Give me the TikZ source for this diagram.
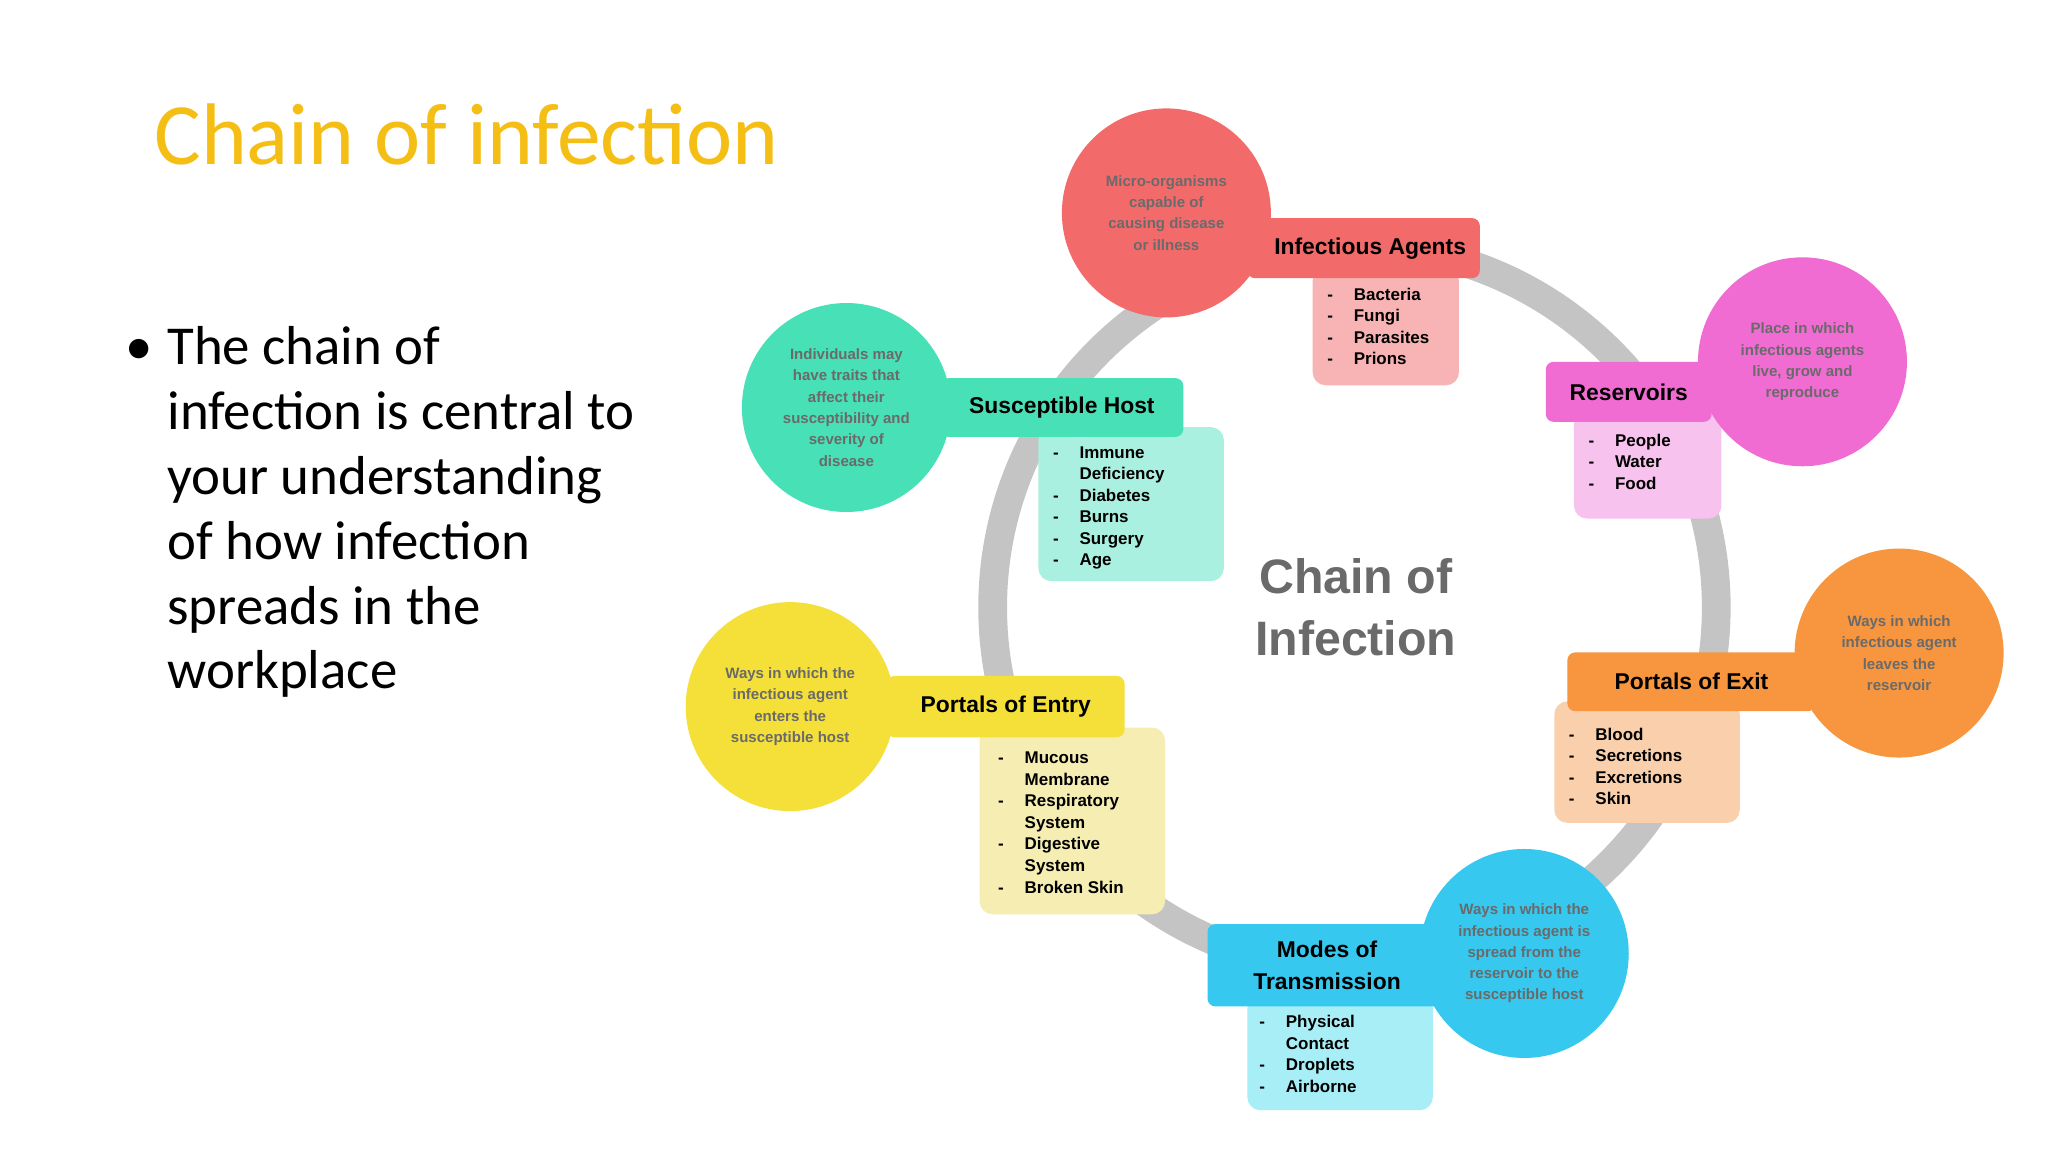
\documentclass[tikz,border=0pt]{standalone}
\usepackage{fontspec}
\setmainfont{Liberation Sans}
\newfontfamily\calfnt{Carlito}
\definecolor{ttl}{HTML}{F5BE14}
\definecolor{ring}{HTML}{C4C4C4}
\definecolor{cA}{HTML}{F26A6A}\definecolor{lA}{HTML}{F8B4B4}
\definecolor{cR}{HTML}{F06CD2}\definecolor{lR}{HTML}{F8C2EE}
\definecolor{cE}{HTML}{F7963E}\definecolor{lE}{HTML}{FAD0AC}
\definecolor{cM}{HTML}{36C8EE}\definecolor{lM}{HTML}{A8EEF6}
\definecolor{cP}{HTML}{F5E03A}\definecolor{lP}{HTML}{F5EDB2}
\definecolor{cS}{HTML}{48E0B6}\definecolor{lS}{HTML}{AAF0E0}
\definecolor{ctxt}{HTML}{6A6A6A}
\tikzset{
 circ/.style={circle,inner sep=0pt,minimum size=160pt,align=center,text=ctxt,font=\bfseries\fontsize{11.5}{16.3}\selectfont},
 lab/.style={rounded corners=6pt,inner sep=0pt,align=center,font=\bfseries\fontsize{17.5}{24}\selectfont},
 lbox/.style={rounded corners=10pt},
 ltxt/.style={anchor=north west,inner sep=0pt,align=left,font=\bfseries\fontsize{13}{16.5}\selectfont},
}
\newcommand\li[1]{\begin{tabular}{@{}l@{\hspace{16pt}}l@{}}#1\end{tabular}}
\begin{document}
\begin{tikzpicture}[x=1pt,y=-1pt]
\useasboundingbox[fill=white] (0,0) rectangle (1568,882);
\node[anchor=base west,inner sep=0pt,text=ttl,font=\calfnt\fontsize{67}{70}\selectfont] (title) at (118,126) {Chain of infection};
\node[anchor=north west,inner sep=0pt,align=left,font=\calfnt\fontsize{42}{49.6}\selectfont] (bul) at (96,250)
 {\makebox[32pt][l]{\textbullet}The chain of\\\hspace*{32pt}infection is central to\\\hspace*{32pt}your understanding\\\hspace*{32pt}of how infection\\\hspace*{32pt}spreads in the\\\hspace*{32pt}workplace};
\draw[ring,line width=22pt] (1037,465) circle (277);
\node[text=ctxt,align=center,font=\bfseries\fontsize{37}{47}\selectfont] (ctr) at (1038,465) {Chain of\\Infection};
% lists
\fill[lA,lbox] (1005,205) rectangle (1117,295);
\node[ltxt] (tA) at (1016,218) {\li{-&Bacteria\\-&Fungi\\-&Parasites\\-&Prions}};
\fill[lR,lbox] (1205,315) rectangle (1318,397);
\node[ltxt] (tR) at (1216,330) {\li{-&People\\-&Water\\-&Food}};
\fill[lE,lbox] (1190,537) rectangle (1332,630);
\node[ltxt] (tE) at (1201,555) {\li{-&Blood\\-&Secretions\\-&Excretions\\-&Skin}};
\fill[lM,lbox] (955,762) rectangle (1097,850);
\node[ltxt] (tM) at (964,775) {\li{-&Physical\\&Contact\\-&Droplets\\-&Airborne}};
\fill[lP,lbox] (750,557) rectangle (892,700);
\node[ltxt] (tP) at (764,573) {\li{-&Mucous\\&Membrane\\-&Respiratory\\&System\\-&Digestive\\&System\\-&Broken Skin}};
\fill[lS,lbox] (795,327) rectangle (937,445);
\node[ltxt] (tS) at (806,339) {\li{-&Immune\\&Deficiency\\-&Diabetes\\-&Burns\\-&Surgery\\-&Age}};
% circles
\node[circ,fill=cA] (A) at (893,163) {Micro-organisms\\capable of\\causing disease\\or illness};
\node[circ,fill=cR] (R) at (1380,277) {Place in which\\infectious agents\\live, grow and\\reproduce};
\node[circ,fill=cE] (E) at (1454,500) {Ways in which\\infectious agent\\leaves the\\reservoir};
\node[circ,fill=cM] (M) at (1167,730) {Ways in which the\\infectious agent is\\spread from the\\reservoir to the\\susceptible host};
\node[circ,fill=cP] (P) at (605,541) {Ways in which the\\infectious agent\\enters the\\susceptible host};
\node[circ,fill=cS] (S) at (648,312) {Individuals may\\have traits that\\affect their\\susceptibility and\\severity of\\disease};
% labels
\node[lab,fill=cA,minimum width=178pt,minimum height=46pt] (LA) at (1044,190) {\hspace*{10pt}Infectious Agents};
\node[lab,fill=cR,minimum width=127pt,minimum height=46pt] (LR) at (1247,300) {Reservoirs};
\node[lab,fill=cE,minimum width=190pt,minimum height=45pt] (LE) at (1295,522) {Portals of Exit};
\node[lab,fill=cM,minimum width=183pt,minimum height=63pt] (LM) at (1016,739) {Modes of\\Transmission};
\node[lab,fill=cP,minimum width=182pt,minimum height=47pt] (LP) at (770,541) {Portals of Entry};
\node[lab,fill=cS,minimum width=186pt,minimum height=45pt] (LS) at (813,312) {Susceptible Host};
\end{tikzpicture}
\end{document}
